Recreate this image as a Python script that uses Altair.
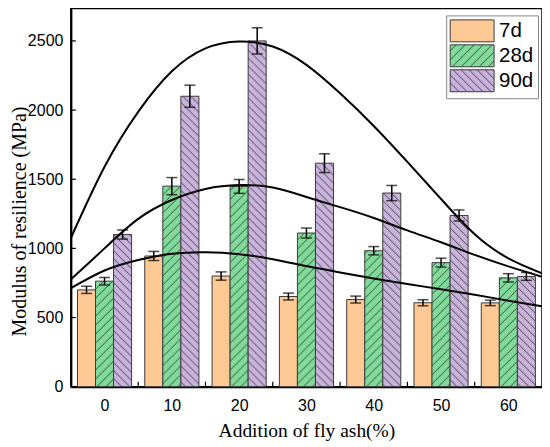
import altair as alt
import pandas as pd
import altair.utils.html as _alt_html

# ---------------- data ----------------
fly_ash = [0, 10, 20, 30, 40, 50, 60]
ages = ["7d", "28d", "90d"]
modulus_7d = [700, 945, 800, 652, 630, 607, 606]
modulus_28d = [763, 1450, 1448, 1111, 983, 897, 787]
modulus_90d = [1100, 2100, 2500, 1616, 1400, 1238, 797]
err_7d = [26, 33, 30, 25, 25, 22, 20]
err_28d = [27, 62, 50, 36, 30, 32, 30]
err_90d = [33, 80, 95, 68, 55, 40, 28]

# fitted curves
curve_x = [-5, 0, 5, 10, 15, 20, 25, 30, 35, 40, 45, 50, 55, 60, 65]
curve_7d = [712, 840, 916, 961, 972, 958, 922, 872, 826, 782, 742, 705, 665, 622, 582]
curve_28d = [776, 1000, 1213, 1350, 1430, 1458, 1440, 1372, 1298, 1220, 1130, 1044, 953, 870, 795]
curve_90d = [1075, 1590, 1987, 2280, 2446, 2496, 2460, 2327, 2121, 1885, 1625, 1357, 1102, 928, 820]

y_tick_values = [0, 500, 1000, 1500, 2000, 2500]
x_label_values = [0, 10, 20, 30, 40, 50, 60]
x_minor_values = [5, 15, 25, 35, 45, 55]

# ---------------- styling ----------------
C7 = "#FFC996"
C28 = "#80DB9A"
C90 = "#C9B3DD"
BAR_W = 2.68  # bar width in x-axis units
W, H = 472, 379

PATTERNS = (
    '<svg width="1" height="1" style="position:absolute;left:0;top:0;width:1px;height:1px" aria-hidden="true"><defs>'
    '<pattern id="hatch28" patternUnits="userSpaceOnUse" x="0" y="0" width="9" height="9">'
    f'<rect x="0" y="0" width="9" height="9" fill="{C28}"/>'
    '<path d="M-2,2 L2,-2 M0,9 L9,0 M7,11 L11,7" stroke="#2a2a2a" stroke-width="0.8" fill="none"/>'
    '</pattern>'
    '<pattern id="hatch90" patternUnits="userSpaceOnUse" x="0" y="0" width="8" height="8">'
    f'<rect x="0" y="0" width="8" height="8" fill="{C90}"/>'
    '<path d="M-2,6 L2,10 M0,0 L8,8 M6,-2 L10,2" stroke="#2a2a2a" stroke-width="0.8" fill="none"/>'
    '</pattern></defs></svg>'
)


def _inject(html):
    if PATTERNS in html:
        return html
    if "<body>" in html:
        return html.replace("<body>", "<body>\n" + PATTERNS, 1)
    return html.replace("<div", PATTERNS + "\n<div", 1)


class _TemplateWithPatterns:
    def __init__(self, inner):
        self.inner = inner

    def render(self, *args, **kwargs):
        return _inject(self.inner.render(*args, **kwargs))


if hasattr(_alt_html, "TEMPLATES"):
    for _k in list(_alt_html.TEMPLATES.keys()):
        _alt_html.TEMPLATES[_k] = _TemplateWithPatterns(_alt_html.TEMPLATES[_k])

_orig_spec_to_html = _alt_html.spec_to_html


def _spec_to_html_with_patterns(*args, **kwargs):
    return _inject(_orig_spec_to_html(*args, **kwargs))


_alt_html.spec_to_html = _spec_to_html_with_patterns
for _mod_name in ("altair.utils.save", "altair.utils"):
    try:
        _m = __import__(_mod_name, fromlist=["_"])
        if hasattr(_m, "spec_to_html"):
            setattr(_m, "spec_to_html", _spec_to_html_with_patterns)
    except Exception:
        pass

# ---------------- tables ----------------
rows = []
for series_idx, (age, vals, errs) in enumerate(
    zip(ages, [modulus_7d, modulus_28d, modulus_90d], [err_7d, err_28d, err_90d])
):
    for fa, v, e in zip(fly_ash, vals, errs):
        rows.append({"fly": fa, "age": age, "idx": series_idx, "value": v, "err": e})
bars_df = pd.DataFrame(rows)

curve_rows = []
for age, vals in zip(ages, [curve_7d, curve_28d, curve_90d]):
    for cx, cv in zip(curve_x, vals):
        curve_rows.append({"cx": cx, "cv": cv, "age": age})
curve_df = pd.DataFrame(curve_rows)

xs = alt.Scale(domain=[-5, 65], nice=False, zero=False)
ys = alt.Scale(domain=[0, 2735], nice=False, zero=False)

base = alt.Chart(bars_df).transform_calculate(
    x0=f"datum.fly + (datum.idx - 1.5) * {BAR_W}",
    x1=f"datum.fly + (datum.idx - 0.5) * {BAR_W}",
    xc=f"datum.fly + (datum.idx - 1.0) * {BAR_W}",
    lo="datum.value - datum.err",
    hi="datum.value + datum.err",
)

bars = base.mark_bar(stroke="#3a3a3a", strokeWidth=1).encode(
    x=alt.X(
        "x0:Q",
        scale=xs,
        axis=alt.Axis(
            values=x_label_values,
            format="d",
            title="Addition of fly ash(%)",
            titleFontSize=19.5,
            labelPadding=11,
            titleY=50,
            titleBaseline="alphabetic",
        ),
    ),
    x2="x1:Q",
    y=alt.Y(
        "value:Q",
        scale=ys,
        stack=None,
        axis=alt.Axis(
            values=y_tick_values,
            format="d",
            title="Modulus of resilience (MPa)",
            titleFontSize=20,
            labelPadding=8,
            titleX=-45,
            titleY=213,
            titleAngle=270,
            titleAlign="center",
            titleBaseline="alphabetic",
        ),
    ),
    y2=alt.datum(0),
    fill=alt.Fill(
        "age:N",
        scale=alt.Scale(
            domain=ages,
            range=[C7, f"url(#hatch28) {C28}", f"url(#hatch90) {C90}"],
        ),
        legend=alt.Legend(
            title=None,
            orient="none",
            legendX=376,
            legendY=7,
            symbolType="M-2,-1H2V1H-2Z",
            symbolSize=484,
            symbolOffset=10.5,
            symbolStrokeColor="#3a3a3a",
            symbolStrokeWidth=1,
            labelOffset=15.5,
            labelFontSize=20.5,
            labelFont="Liberation Sans",
            labelColor="black",
            labelLimit=0,
            strokeColor="#888888",
            fillColor="white",
            padding=4,
            rowPadding=-2,
        ),
    ),
)

x_ticks = alt.Chart(pd.DataFrame({"t": x_minor_values})).mark_rule(
    color="black", strokeWidth=1.2
).encode(
    x=alt.X("t:Q", scale=xs),
    y=alt.value(H),
    y2=alt.value(H - 5),
)

y_ticks = alt.Chart(pd.DataFrame({"t": y_tick_values})).mark_rule(
    color="black", strokeWidth=1.2
).encode(
    y=alt.Y("t:Q", scale=ys),
    x=alt.value(0),
    x2=alt.value(5),
)

curves = alt.Chart(curve_df).mark_line(
    interpolate="natural", color="black", strokeWidth=2
).encode(
    x=alt.X("cx:Q", scale=xs),
    y=alt.Y("cv:Q", scale=ys),
    detail="age:N",
)

err_rules = base.mark_rule(color="black", strokeWidth=1.5).encode(
    x=alt.X("xc:Q", scale=xs),
    y=alt.Y("lo:Q", scale=ys),
    y2="hi:Q",
)
cap_lo = base.mark_tick(color="black", orient="horizontal", size=11, thickness=1.5).encode(
    x=alt.X("xc:Q", scale=xs),
    y=alt.Y("lo:Q", scale=ys),
)
cap_hi = base.mark_tick(color="black", orient="horizontal", size=11, thickness=1.5).encode(
    x=alt.X("xc:Q", scale=xs),
    y=alt.Y("hi:Q", scale=ys),
)

chart = (
    alt.layer(bars, x_ticks, y_ticks, curves, err_rules, cap_lo, cap_hi)
    .properties(
        width=W,
        height=H,
        autosize=alt.AutoSizeParams(type="none"),
        padding={"left": 63, "top": 0, "right": 0, "bottom": 55},
        background="white",
    )
    .configure_view(stroke="black", strokeWidth=1.5)
    .configure_axis(
        grid=False,
        ticks=False,
        tickSize=0,
        domainColor="black",
        domainWidth=2,
        labelFont="Liberation Sans",
        labelFontSize=16,
        labelColor="black",
        labelFlush=False,
        labelOverlap=False,
        titleFont="Liberation Serif",
        titleFontWeight="normal",
        titleColor="black",
    )
)

chart.save("out.html", embed_options={"renderer": "svg", "actions": False})
